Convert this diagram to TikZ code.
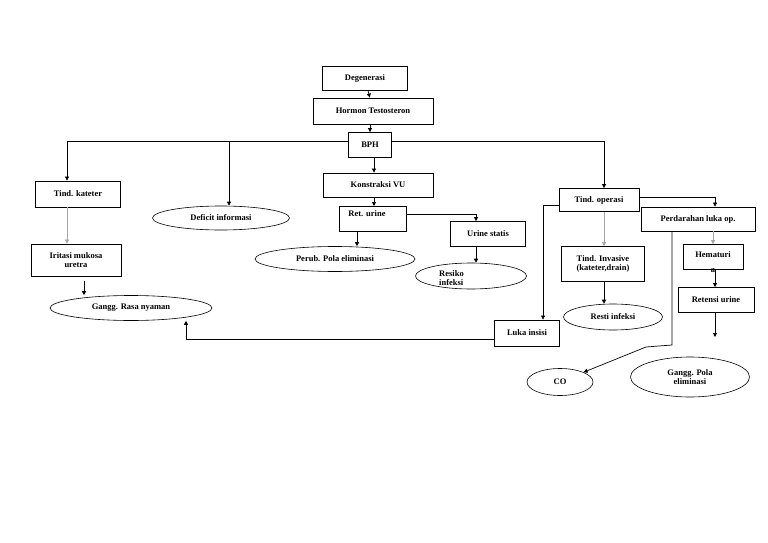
\documentclass[tikz,border=0pt]{standalone}
\usepackage{fontspec}
\setmainfont{Liberation Serif}
\usetikzlibrary{arrows.meta,shapes.geometric}
\begin{document}
\begin{tikzpicture}[x=1pt,y=-1pt,
  every node/.style={font=\bfseries\fontsize{8.5}{9.5}\selectfont, inner sep=1pt},
  bx/.style={draw, line width=0.8pt, minimum width=#1, minimum height=24pt, align=center},
  el/.style={draw, ellipse, line width=0.6pt, minimum width=#1, minimum height=24pt, align=center},
  ar/.style={-{Triangle[length=4pt,width=4pt]}, line width=0.7pt},
  gr/.style={ar, draw=gray!70}]
\useasboundingbox (0,0) rectangle (768,543);
\node[bx=85] (deg) at (365,78) {Degenerasi};
\node[bx=120,minimum height=26pt] (hor) at (373,111) {Hormon Testosteron};
\node[bx=43,minimum height=25pt] (bph) at (370,145) {BPH};
\node[bx=110] (kon) at (378,185) {Konstraksi VU};
\node[bx=67,minimum height=25pt,anchor=north] (ret) at (373,206) {};
\node at (367,214) {Ret. urine};
\node[bx=75,minimum height=25pt] (us) at (488,234) {Urine statis};
\node[bx=85,minimum height=26pt] (tk) at (78,194) {Tind. kateter};
\node[el=137] (di) at (221,218) {Deficit informasi};
\node[bx=90,minimum height=32pt] (ir) at (76,260) {Iritasi mukosa\\uretra};
\node[el=162,minimum height=25pt] (grn) at (131,308) {Gangg. Rasa nyaman};
\node[el=160,minimum height=25pt] (ppe) at (335,259) {Perub. Pola eliminasi};
\node[el=111,minimum height=26pt] (ri) at (471,276) {};
\node[align=left,anchor=west] at (438,278) {Resiko\\infeksi};
\node[bx=80,minimum height=23pt] (to) at (599,200) {Tind. operasi};
\node[bx=114] (plo) at (698,219) {Perdarahan luka op.};
\node[bx=83,minimum height=35pt] (ti) at (603,264) {Tind. Invasive\\(kateter,drain)};
\node[bx=60,minimum height=25pt] (hem) at (713,257) {};
\node[anchor=north] at (713,250) {Hematuri};
\node at (713,271) {a};
\node[bx=76,minimum height=25pt] (rtu) at (716,300) {Retensi urine};
\node[el=99,minimum height=26pt] (rst) at (613,317) {Resti infeksi};
\node[bx=65,minimum height=26pt] (li) at (527,333) {Luka insisi};
\node[el=66,minimum height=27pt] (co) at (560,382) {CO};
\node[el=119,minimum height=40pt] (gpe) at (690,377) {Gangg. Pola\\eliminasi};
\coordinate (rtend) at (715,337);

\draw[ar] (deg) -- (hor);
\draw[ar] (hor.south -| bph) -- (bph);
\draw[ar] (bph.west |- 0,141) -| (tk.north -| 67,0);
\draw[ar] (229,141) -- (di.north -| 229,0);
\draw[ar] (bph.east |- 0,141) -| (to.north -| 604,0);
\draw[ar] (bph.south -| 374,0) -- (kon.north -| 374,0);
\draw[ar] (kon.south -| 374,0) -- (ret.north -| 374,0);
\draw[ar] (ret.south -| 357,0) -- (ppe.north -| 357,0);
\draw[ar] (ret.east |- 0,214) -| (us.north -| 476,0);
\draw[ar] (us.south -| 476,0) -- (ri.north -| 476,0);
\draw[gr] (tk.south -| 67,0) -- (ir.north -| 67,0);
\draw[ar] (84,281) -- (grn.north -| 84,0);
\draw[ar] (li.west |- 0,339) -| (grn.south -| 186,0);
\draw[ar] (to.west |- 0,205) -| (li.north -| 543,0);
\draw[ar] (to.east |- 0,197) -| (plo.north -| 715,0);
\draw[gr] (to.south -| 604,0) -- (ti.north -| 604,0);
\draw[ar] (ti.south -| 604,0) -- (rst.north -| 604,0);
\draw[gr] (plo.south -| 713,0) -- (hem.north -| 713,0);
\draw[ar] (hem.south -| 715,0) -- (rtu.north -| 715,0);
\draw[ar] (rtu.south -| 715,0) -- (rtend);
\draw[ar] (plo.south -| 672,0) -- (672,345) -- (646,347) -- (co.north east);
\end{tikzpicture}
\end{document}
